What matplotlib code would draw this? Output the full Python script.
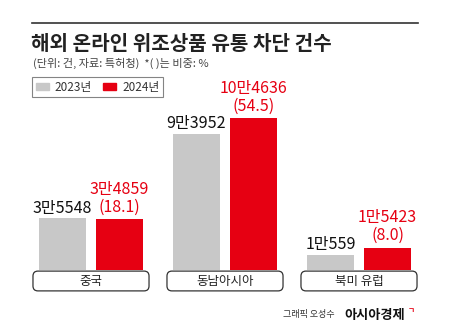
import matplotlib
matplotlib.use("Agg")
import matplotlib.pyplot as plt
from matplotlib.patches import FancyBboxPatch, Patch
from matplotlib.lines import Line2D
import numpy as np

plt.rcParams['font.family'] = ['Noto Sans CJK KR', 'DejaVu Sans']

# 데이터
regions = ['중국', '동남아시아', '북미 유럽']
y2023 = [35548, 93952, 10559]
y2024 = [34859, 104636, 15423]
share_2024 = [18.1, 54.5, 8.0]
years = ['2023년', '2024년']

GRAY = '#c8c8c8'
RED = '#e60012'

W, H = 450, 328


def fx(px):
    return px / W


def fy(py):
    return 1 - py / H


def han(v):
    # 35548 -> 3만5548
    man, rest = divmod(v, 10000)
    return f'{man}만{rest}' if man else str(rest)


fig = plt.figure(figsize=(W / 100, H / 100), dpi=100)
fig.patch.set_facecolor('white')

# 상단 선 + 제목
fig.add_artist(Line2D([fx(32), fx(418)], [fy(23), fy(23)], color='#333333', lw=1.2))
fig.text(fx(31), fy(43), '해외 온라인 위조상품 유통 차단 건수', fontsize=14.5,
         fontweight='bold', color='#222222', va='center', ha='left')
fig.text(fx(33), fy(63), '(단위: 건, 자료: 특허청)  *( )는 비중: %', fontsize=8,
         color='#444444', va='center', ha='left')

# 막대
ax = fig.add_axes([fx(24), fy(270), fx(426) - fx(24), fy(100) - fy(270)])
x = np.arange(len(regions))
bw = 0.35
off = 0.2127
ax.bar(x - off, y2023, width=bw, color=GRAY)
ax.bar(x + off, y2024, width=bw, color=RED)
ax.set_xlim(-0.5, 2.5)
ax.set_ylim(0, 170 * 690)
ax.axis('off')

px2pt = 0.72
for i in range(len(regions)):
    ax.annotate(han(y2023[i]), xy=(x[i] - off, y2023[i]), xytext=(0, 10 * px2pt),
                textcoords='offset points', ha='center', va='center',
                fontsize=11.5, fontweight='medium', color='#111111', annotation_clip=False)
    ax.annotate(han(y2024[i]), xy=(x[i] + off, y2024[i]), xytext=(0, 30 * px2pt),
                textcoords='offset points', ha='center', va='center',
                fontsize=11.5, fontweight='medium', color=RED, annotation_clip=False)
    ax.annotate(f'({share_2024[i]:.1f})', xy=(x[i] + off, y2024[i]), xytext=(0, 12 * px2pt),
                textcoords='offset points', ha='center', va='center',
                fontsize=11.5, fontweight='medium', color=RED, annotation_clip=False)

# 지역 라벨 박스
lab = fig.add_axes([fx(24), fy(292), fx(426) - fx(24), fy(270) - fy(292)])
lab.set_xlim(-0.5, 2.5)
lab.set_ylim(0, 1)
lab.axis('off')
box_w = 0.866
aspect = (1 / 22) / (1 / 134)
for i, name in enumerate(regions):
    lab.add_patch(FancyBboxPatch((x[i] - box_w / 2, 0.05), box_w, 0.9,
                                 boxstyle='round,pad=0,rounding_size=0.037',
                                 mutation_aspect=aspect, fc='white',
                                 ec='#333333', lw=0.9, clip_on=False))
    lab.text(x[i], 0.5, name, ha='center', va='center', fontsize=9, color='#222222')

# 범례
handles = [Patch(color=GRAY, label=years[0]), Patch(color=RED, label=years[1])]
leg = fig.legend(handles=handles, ncol=2, loc='upper left',
                 bbox_to_anchor=(fx(32), fy(77)), bbox_transform=fig.transFigure,
                 frameon=True, fancybox=False, edgecolor='#666666', fontsize=8.5,
                 handlelength=1.1, handleheight=0.5, handletextpad=0.5,
                 columnspacing=1.0, borderpad=0.3, borderaxespad=0)
leg.get_frame().set_linewidth(0.8)
for t in leg.get_texts():
    t.set_color('#333333')

# 출처
fig.text(fx(283), fy(315), '그래픽 오성수', fontsize=6.5, color='#333333', va='center')
fig.text(fx(344), fy(315), '아시아경제', fontsize=9.5, fontweight='bold',
         color='#111111', va='center')
fig.text(fx(408), fy(311), 'ㄱ', fontsize=5.5, fontweight='bold', color=RED, va='center')

fig.savefig('out.png', dpi=100)
